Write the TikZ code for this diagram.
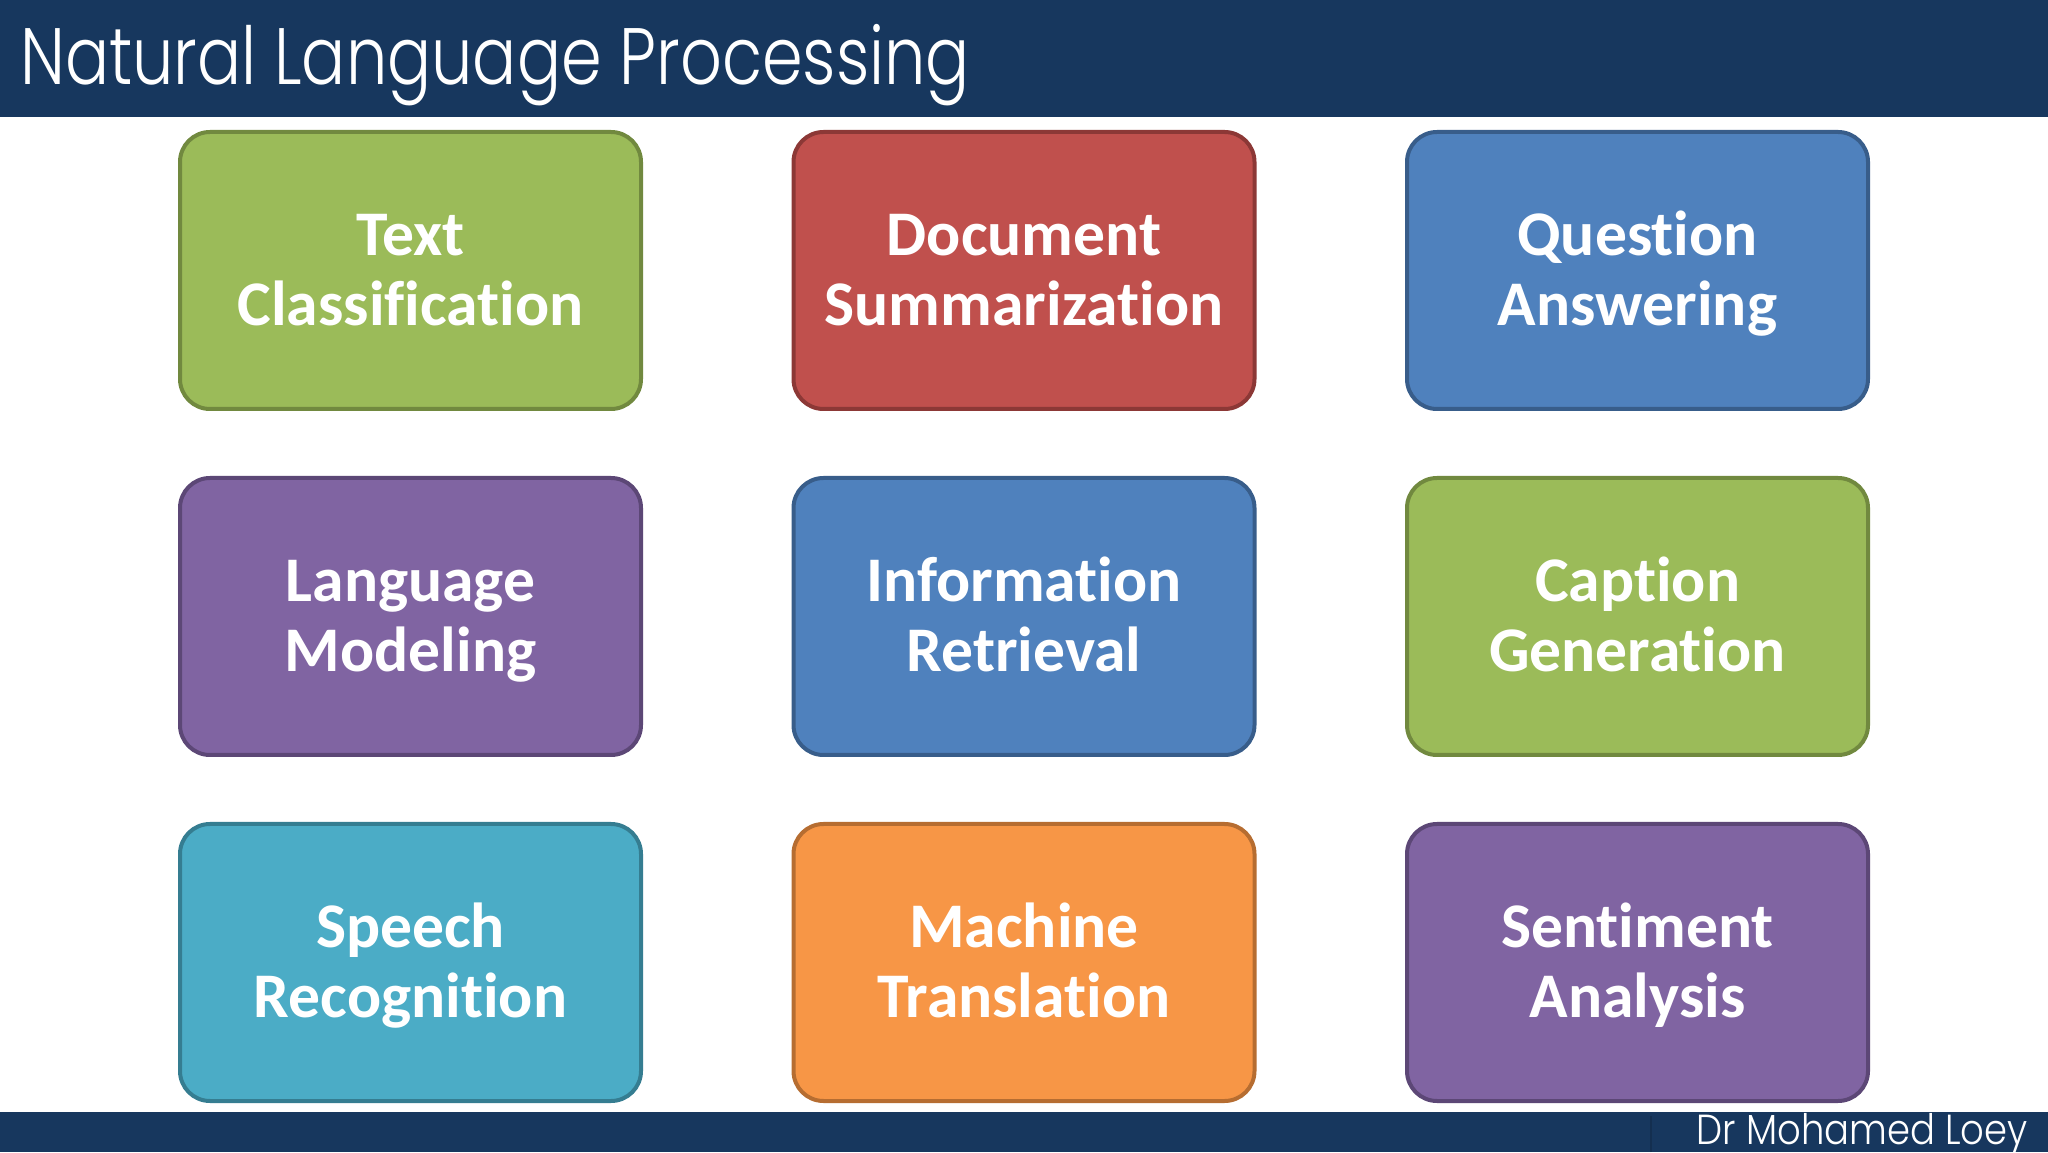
\documentclass[tikz,border=0pt]{standalone}
\usepackage{graphicx}
\usepackage{fontspec}
\setmainfont{Carlito}[Ligatures=NoCommon,Contextuals=NoAlternate]
\newfontfamily\ttlfont{Poppins Light}
\definecolor{navy}{HTML}{17375E}
\definecolor{navyline}{HTML}{142F50}
\definecolor{gfill}{HTML}{9BBB59}\definecolor{gline}{HTML}{71893F}
\definecolor{rfill}{HTML}{C0504D}\definecolor{rline}{HTML}{8C3836}
\definecolor{bfill}{HTML}{4F81BD}\definecolor{bline}{HTML}{385D8A}
\definecolor{pfill}{HTML}{8064A2}\definecolor{pline}{HTML}{5C4776}
\definecolor{afill}{HTML}{4BACC6}\definecolor{aline}{HTML}{357D91}
\definecolor{ofill}{HTML}{F79646}\definecolor{oline}{HTML}{B66D31}
\newcommand{\cardtext}[2]{\rule[-21pt]{0pt}{82pt}#1\\\rule[-21pt]{0pt}{70pt}#2}
\tikzset{
  x=1pt,y=1pt,
  card/.style n args={2}{draw=#2,fill=#1,line width=4pt,rounded corners=30pt,
    minimum width=461pt,minimum height=277pt,inner sep=0pt,align=center,text=white,
    font=\fontsize{63.6}{70}\selectfont\bfseries},
  band/.style={fill=navy,draw=none,inner sep=0pt,anchor=north west},
}
\begin{document}
\begin{tikzpicture}
\useasboundingbox (0,0) rectangle (2048,1152);
\fill[white] (0,0) rectangle (2048,1152);
\node[band,minimum width=2048pt,minimum height=117pt] (header) at (0,1152) {};
\node[band,minimum width=2048pt,minimum height=40pt] (footer) at (0,40) {};
\node[anchor=base west,inner sep=0pt,text=white,font=\ttlfont\fontsize{80}{90}\selectfont] (title) at (20,1067) {\scalebox{0.817}[1]{Natural Language Processing}};
\node[anchor=base east,inner sep=0pt,text=white,font=\ttlfont\fontsize{42}{46}\selectfont] (author) at (2028,8) {\scalebox{0.88}[1]{Dr Mohamed Loey}};
\draw[navyline,line width=2pt] (1651,0) -- (1651,36);
\node[card={gfill}{gline}] (a1) at (410.5,881.5) {\cardtext{Text}{Classification}};
\node[card={rfill}{rline}] (a2) at (1024,881.5) {\cardtext{Document}{Summarization}};
\node[card={bfill}{bline}] (a3) at (1637.5,881.5) {\cardtext{Question}{Answering}};
\node[card={pfill}{pline}] (b1) at (410.5,535.5) {\cardtext{Language}{Modeling}};
\node[card={bfill}{bline}] (b2) at (1024,535.5) {\cardtext{Information}{Retrieval}};
\node[card={gfill}{gline}] (b3) at (1637.5,535.5) {\cardtext{Caption}{Generation}};
\node[card={afill}{aline}] (c1) at (410.5,189.5) {\cardtext{Speech}{Recognition}};
\node[card={ofill}{oline}] (c2) at (1024,189.5) {\cardtext{Machine}{Translation}};
\node[card={pfill}{pline}] (c3) at (1637.5,189.5) {\cardtext{Sentiment}{Analysis}};
\end{tikzpicture}
\end{document}
